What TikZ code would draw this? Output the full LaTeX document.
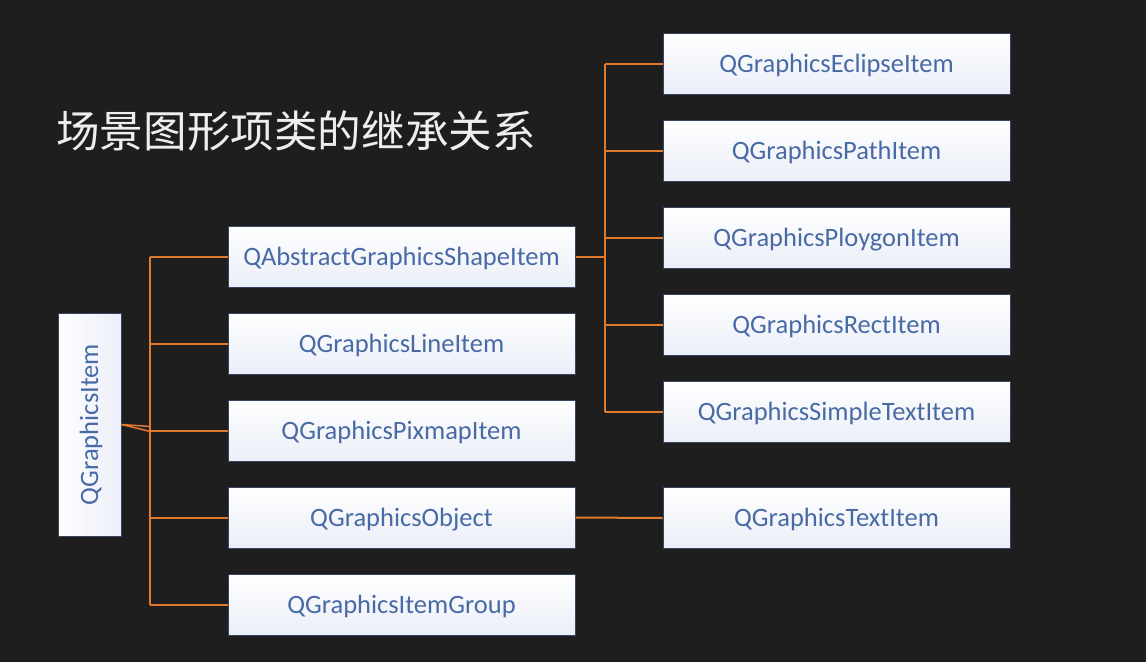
\documentclass[tikz,border=0pt]{standalone}
\usepackage{fontspec}
\setmainfont{Carlito}
\newfontfamily\cjk{Noto Sans CJK SC}
\definecolor{bg}{RGB}{30,30,30}
\definecolor{boxfill}{RGB}{234,238,247}
\definecolor{boxborder}{RGB}{55,68,100}
\definecolor{txt}{RGB}{72,106,165}
\definecolor{wire}{RGB}{226,122,44}
\begin{document}
\begin{tikzpicture}[x=1pt,y=-1pt,
  box/.style={draw=boxborder, line width=1pt, top color=white, bottom color=boxfill,
    minimum width=347pt, minimum height=61pt, inner sep=0pt,
    text height=17pt, text depth=0pt,
    text=txt, font=\fontsize{26.5}{30}\selectfont},
  wireln/.style={draw=wire, line width=2pt}]
\fill[bg] (0,0) rectangle (1146,662);
\useasboundingbox (0,0) rectangle (1146,662);
\node[anchor=west, text={rgb,255:red,238;green,238;blue,238}, font=\cjk\fontsize{43.6}{48}\selectfont, inner sep=0pt] (title) at (56,131) {场景图形项类的继承关系};
% root
\node[box, minimum width=223pt, minimum height=63pt, rotate=90, shading angle=90] (root) at (89.5,424.5) {QGraphicsItem};
% middle column
\node[box] (shape) at (401.5,256.5) {QAbstractGraphicsShapeItem};
\node[box] (line) at (401.5,343.5) {QGraphicsLineItem};
\node[box] (pix) at (401.5,430.5) {QGraphicsPixmapItem};
\node[box] (obj) at (401.5,517.5) {QGraphicsObject};
\node[box] (grp) at (401.5,604.5) {QGraphicsItemGroup};
% right column
\node[box] (ell) at (836.5,63.5) {QGraphicsEclipseItem};
\node[box] (path) at (836.5,150.5) {QGraphicsPathItem};
\node[box] (poly) at (836.5,237.5) {QGraphicsPloygonItem};
\node[box] (rect) at (836.5,325) {QGraphicsRectItem};
\node[box] (simp) at (836.5,412) {QGraphicsSimpleTextItem};
\node[box] (textit) at (836.5,518) {QGraphicsTextItem};
% left bus
\coordinate (lb) at (150,0);
\coordinate (rb) at (605,0);
\draw[wireln] (lb |- shape.west) -- (lb |- grp.west);
\foreach \n in {shape,line,pix,obj,grp} \draw[wireln] (lb |- \n.west) -- (\n.west);
\draw[draw=wire, line width=1.5pt] (root.south) -- ++(29,2);
\draw[draw=wire, line width=1.5pt] (root.south) -- ++(29,7);
% right bus
\draw[wireln] (rb |- ell.west) -- (rb |- simp.west);
\draw[wireln] (shape.east) -- (rb |- shape.east);
\foreach \n in {ell,path,poly,rect,simp} \draw[wireln] (rb |- \n.west) -- (\n.west);
\draw[wireln] (obj.east) -- (textit.west);
\end{tikzpicture}
\end{document}
